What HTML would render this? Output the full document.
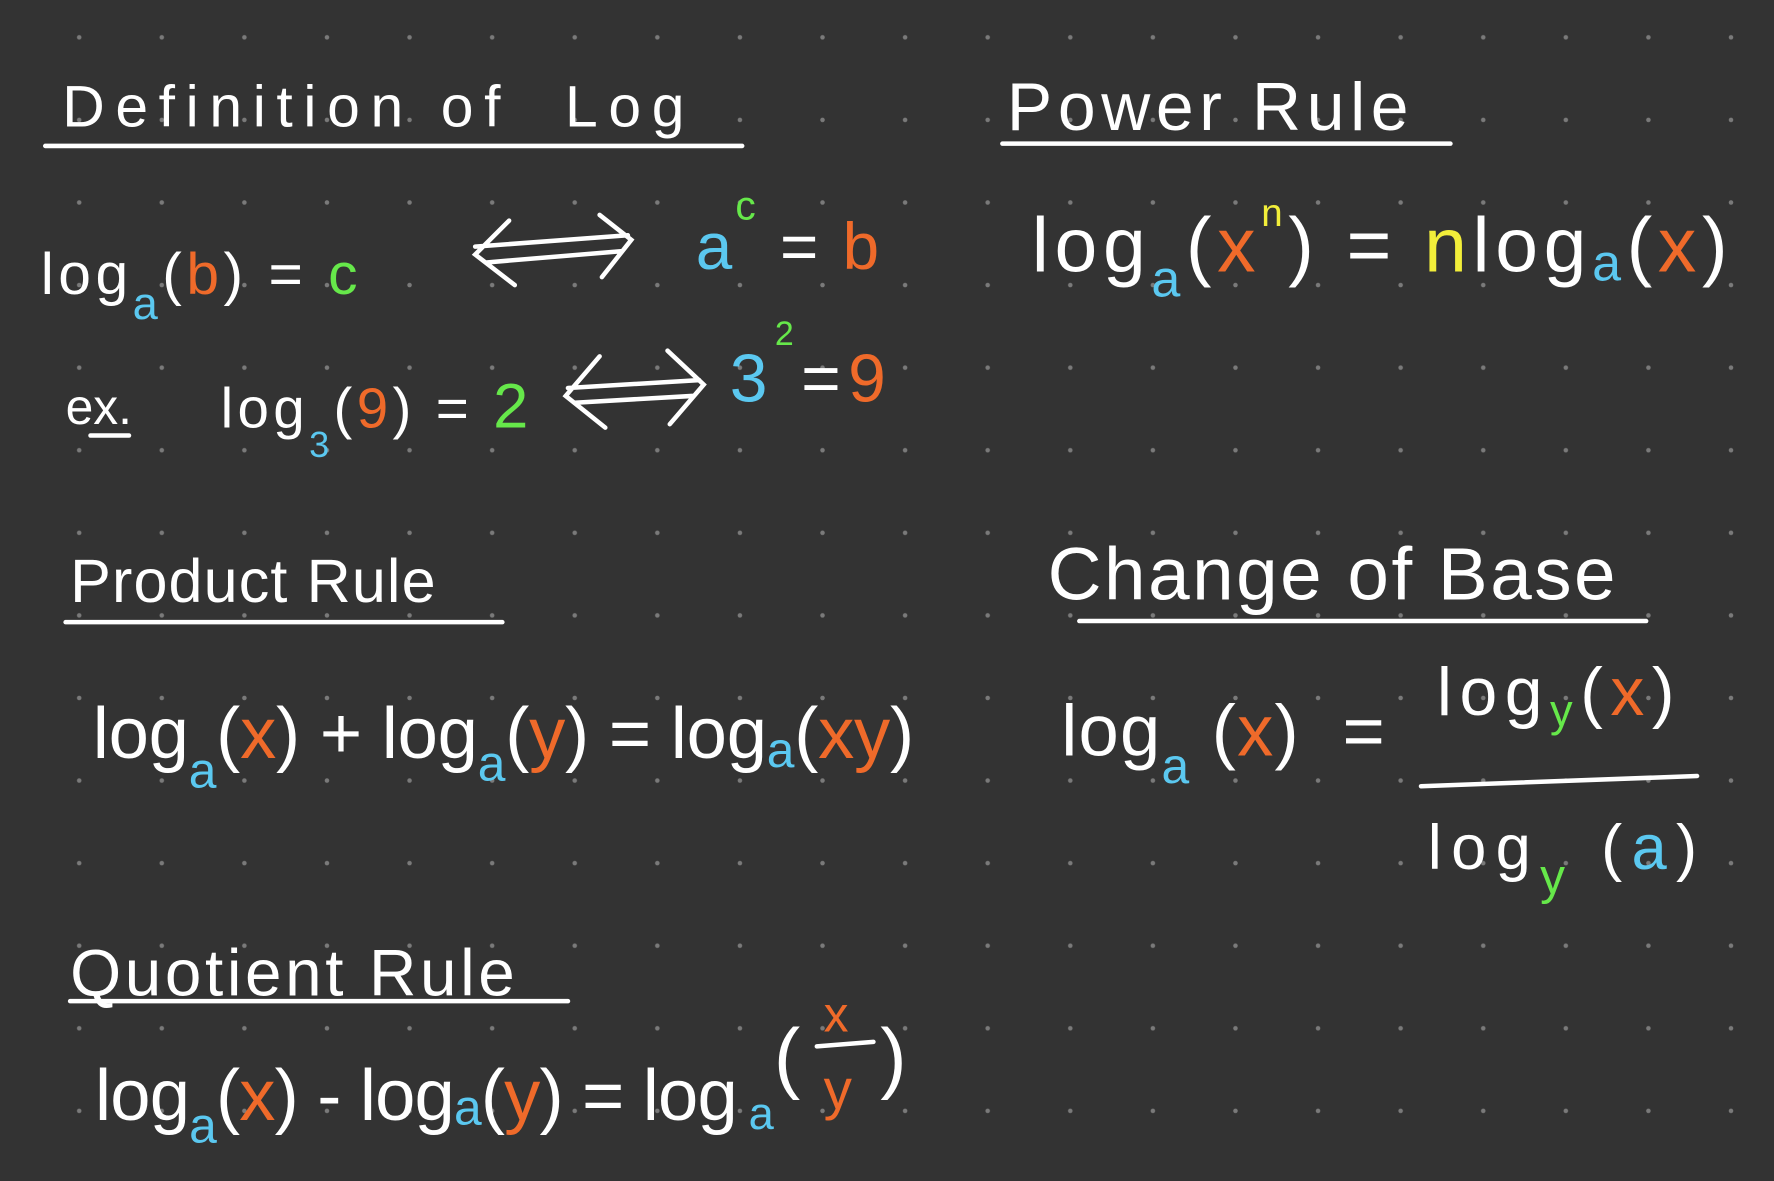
<!DOCTYPE html>
<html><head><meta charset="utf-8"><style>
html,body{margin:0;padding:0;background:#333333;}
svg{display:block}
text{font-family:"Liberation Sans",sans-serif;fill:#fff;}
.w{fill:#fff}.b{fill:#5bc8f0}.o{fill:#ef6a2a}.g{fill:#66e84a}.y{fill:#f2ee3a}
</style></head><body>
<svg width="1774" height="1181" viewBox="0 0 1568 1044" preserveAspectRatio="none" xmlns="http://www.w3.org/2000/svg">
<defs><pattern id="d" x="70" y="33" width="73" height="73" patternUnits="userSpaceOnUse"><circle cx="0" cy="0" r="2" fill="#7a7a7a"/><circle cx="73" cy="0" r="2" fill="#7a7a7a"/><circle cx="0" cy="73" r="2" fill="#7a7a7a"/><circle cx="73" cy="73" r="2" fill="#7a7a7a"/></pattern></defs>
<rect width="1568" height="1044" fill="#333333"/>
<rect x="60" y="25" width="1500" height="1010" fill="url(#d)"/>
<g stroke="#fff" stroke-width="4" stroke-linecap="round" fill="none">
<line x1="40" y1="129" x2="656" y2="129"/>
<line x1="886" y1="127" x2="1282" y2="127"/>
<line x1="58" y1="550" x2="444" y2="550"/>
<line x1="954" y1="549" x2="1455" y2="549"/>
<line x1="62" y1="885" x2="502" y2="885"/>
<line x1="1256" y1="695" x2="1500" y2="686"/>
<line x1="722" y1="925" x2="772" y2="921"/>
<line x1="80" y1="385" x2="114" y2="385"/>
<path d="M420 218 L555 208 M430 232 L550 222 M450 195 L420 225 L455 252 M530 190 L558 212 L532 245"/>
<path d="M502 343 L618 336 M508 356 L612 350 M530 315 L500 350 L535 378 M590 310 L622 340 L592 375"/>
</g>
<text x="55" y="112" font-size="52" textLength="550" lengthAdjust="spacing">Definition of&#160;&#160;Log</text>
<text x="890" y="115" font-size="60" textLength="355" lengthAdjust="spacing">Power Rule</text>
<text x="62" y="532" font-size="54" textLength="323" lengthAdjust="spacing">Product Rule</text>
<text x="926" y="530" font-size="66" textLength="502" lengthAdjust="spacing">Change of Base</text>
<text x="62" y="880" font-size="58" textLength="393" lengthAdjust="spacing">Quotient Rule</text>

<text x="36" y="260" font-size="52" textLength="280" lengthAdjust="spacing">log<tspan class="b" dy="22" font-size="40">a</tspan><tspan dy="-22">(</tspan><tspan class="o">b</tspan>) = <tspan class="g">c</tspan></text>
<text x="615" y="238" font-size="58" textLength="162" lengthAdjust="spacing"><tspan class="b">a</tspan><tspan class="g" dy="-44" font-size="36">c</tspan><tspan dy="44"> = </tspan><tspan class="o">b</tspan></text>
<text x="58" y="375" font-size="44">ex.</text>
<text x="195" y="378" font-size="50" textLength="272" lengthAdjust="spacing">log<tspan class="b" dy="26" font-size="32">3</tspan><tspan dy="-26">(</tspan><tspan class="o">9</tspan>) = <tspan class="g" font-size="56">2</tspan></text>
<text x="645" y="355" font-size="60" textLength="138" lengthAdjust="spacing"><tspan class="b">3</tspan><tspan class="g" dy="-50" font-size="30">2</tspan><tspan dy="50">=</tspan><tspan class="o">9</tspan></text>

<text x="912" y="240" font-size="68" textLength="615" lengthAdjust="spacing">log<tspan class="b" dy="22" font-size="46">a</tspan><tspan dy="-22">(</tspan><tspan class="o">x</tspan><tspan class="y" dy="-40" font-size="34">n</tspan><tspan dy="40">) = </tspan><tspan class="y">n</tspan>log<tspan class="b" dy="8" font-size="46">a</tspan><tspan dy="-8">(</tspan><tspan class="o">x</tspan>)</text>

<text x="82" y="670" font-size="64" textLength="726" lengthAdjust="spacing">log<tspan class="b" dy="26" font-size="44">a</tspan><tspan dy="-26">(</tspan><tspan class="o">x</tspan>) + log<tspan class="b" dy="20" font-size="44">a</tspan><tspan dy="-20">(</tspan><tspan class="o">y</tspan>) = log<tspan class="b" dy="8" font-size="44">a</tspan><tspan dy="-8">(</tspan><tspan class="o">xy</tspan>)</text>

<text x="938" y="668" font-size="64" textLength="286" lengthAdjust="spacing">log<tspan class="b" dy="24" font-size="44">a</tspan><tspan dy="-24"> (</tspan><tspan class="o">x</tspan>)&#160;&#160;=</text>
<text x="1270" y="632" font-size="60" textLength="210" lengthAdjust="spacing">log<tspan class="g" dy="10" font-size="40">y</tspan><tspan dy="-10">(</tspan><tspan class="o">x</tspan>)</text>
<text x="1262" y="768" font-size="56" textLength="238" lengthAdjust="spacing">log<tspan class="g" dy="22" font-size="44">y</tspan><tspan dy="-22"> (</tspan><tspan class="b">a</tspan>)</text>

<text x="84" y="990" font-size="64" textLength="600" lengthAdjust="spacing">log<tspan class="b" dy="20" font-size="44">a</tspan><tspan dy="-20">(</tspan><tspan class="o">x</tspan>) - log<tspan class="b" dy="4" font-size="44">a</tspan><tspan dy="-4">(</tspan><tspan class="o">y</tspan>) = log<tspan class="b" dy="8" font-size="40">&#160;a</tspan></text>
<text x="684" y="958" font-size="70">(</text>
<text x="778" y="958" font-size="70">)</text>
<text x="728" y="912" font-size="44" class="o">x</text>
<text x="728" y="980" font-size="50" class="o">y</text>
</svg>
</body></html>
